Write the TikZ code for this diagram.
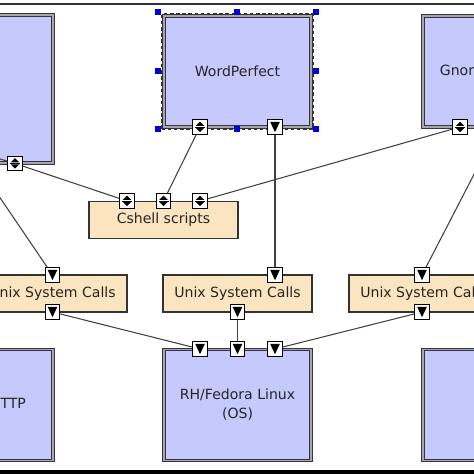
\documentclass[tikz,border=0pt]{standalone}
\usepackage{fontspec}
\setmainfont{DejaVu Sans}
\definecolor{compfill}{RGB}{197,201,251}
\definecolor{callfill}{RGB}{251,228,192}
\definecolor{edgegray}{RGB}{52,52,68}
\tikzset{
  compbox/.style={draw=edgegray, double=black!35, double distance=0.7pt, line width=0.75pt, fill=compfill, minimum width=2.94cm, minimum height=2.22cm, inner sep=0pt, align=center, font=\fontsize{8}{10.8}\selectfont, text=black!85},
  callbox/.style={draw=black!80, line width=0.8pt, fill=callfill, minimum width=2.98cm, minimum height=0.74cm, inner sep=0pt, font=\fontsize{8}{10}\selectfont, text=black!85},
  port/.style={draw=black, fill=white, line width=0.6pt, minimum size=0.29cm, inner sep=0pt},
  portdown/.style={port, path picture={\fill[black] ([shift={(0.05,-0.045)}]path picture bounding box.north west) -- ([shift={(-0.05,-0.045)}]path picture bounding box.north east) -- ([shift={(0,0.04)}]path picture bounding box.south) -- cycle;}},
  portboth/.style={port, path picture={
    \fill[black] ([shift={(-0.085,0.02)}]path picture bounding box.center) -- ([shift={(0.085,0.02)}]path picture bounding box.center) -- ([shift={(0,0.105)}]path picture bounding box.center) -- cycle;
    \fill[black] ([shift={(-0.085,-0.02)}]path picture bounding box.center) -- ([shift={(0.085,-0.02)}]path picture bounding box.center) -- ([shift={(0,-0.105)}]path picture bounding box.center) -- cycle;
    \draw[line width=0.4pt] ([shift={(-0.1,0)}]path picture bounding box.center) -- ([shift={(0.1,0)}]path picture bounding box.center);}},
  handle/.style={fill=blue!85!black, minimum size=0.12cm, inner sep=0pt},
  wire/.style={line width=0.6pt, draw=black!75},
}

\begin{document}
\begin{tikzpicture}
\useasboundingbox (0,0) rectangle (9.48,9.48);
\clip (0,0) rectangle (9.48,9.48);
\draw[line width=0.8pt, black!80] (0,9.40) -- (9.48,9.40);
\draw[line width=2pt, black] (0,0.035) -- (9.48,0.035);
\node[compbox, minimum height=2.96cm] (telnet) at (-0.41,7.70) {Telnet};
\node[compbox] (wordperfect) at (4.75,8.05) {WordPerfect};
\node[compbox] (gnome) at (9.93,8.05) {Gnome Desktop};
\node[compbox] (http) at (-0.41,1.38) {Apache HTTP};
\node[compbox] (linux) at (4.75,1.38) {RH/Fedora Linux\\(OS)};
\node[compbox] (rightcomp) at (9.93,1.38) {};
\node[callbox] (cshell) at (3.27,5.08) {Cshell scripts};
\node[callbox] (callsL) at (1.05,3.61) {Unix System Calls};
\node[callbox] (callsM) at (4.75,3.61) {Unix System Calls};
\node[callbox] (callsR) at (8.47,3.61) {Unix System Calls};
\draw[dashed, dash pattern=on 2pt off 1.5pt, line width=0.6pt, black!80] (3.24,6.90) rectangle (6.26,9.20);
\foreach \hx/\hy [count=\k] in {3.16/9.24, 4.74/9.24, 6.32/9.24, 3.16/8.06, 6.32/8.06, 3.16/6.90, 4.74/6.90, 6.32/6.90}
  \node[handle] (handle\k) at (\hx,\hy) {};
\node[portboth] (telnetP) at (0.30,6.21) {};
\node[portboth] (wpA) at (4.00,6.94) {};
\node[portdown] (wpB) at (5.50,6.94) {};
\node[portboth] (gnomeP) at (9.20,6.94) {};
\node[portboth] (csA) at (2.54,5.46) {};
\node[portboth] (csB) at (3.27,5.46) {};
\node[portboth] (csC) at (4.00,5.46) {};
\node[portdown] (callsLin) at (1.05,3.98) {};
\node[portdown] (callsLout) at (1.05,3.24) {};
\node[portdown] (callsMin) at (5.50,3.98) {};
\node[portdown] (callsMout) at (4.75,3.24) {};
\node[portdown] (callsRin) at (8.44,3.98) {};
\node[portdown] (callsRout) at (8.44,3.24) {};
\node[portdown] (linuxA) at (4.00,2.50) {};
\node[portdown] (linuxB) at (4.75,2.50) {};
\node[portdown] (linuxC) at (5.50,2.50) {};
\coordinate (offTelnet) at (-0.20,6.36);
\coordinate (offLeft) at (-0.20,5.82);
\coordinate (offRight) at (9.68,6.38);
\draw[wire] (telnetP) -- (offTelnet);
\draw[wire] (telnetP) -- (csA);
\draw[wire] (wpA) -- (csB);
\draw[wire] (gnomeP) -- (csC);
\draw[wire] (wpB) -- (callsMin);
\draw[wire] (offLeft) -- (callsLin);
\draw[wire] (offRight) -- (callsRin);
\draw[wire] (callsLout) -- (linuxA);
\draw[wire] (callsMout) -- (linuxB);
\draw[wire] (callsRout) -- (linuxC);
\end{tikzpicture}
\end{document}
